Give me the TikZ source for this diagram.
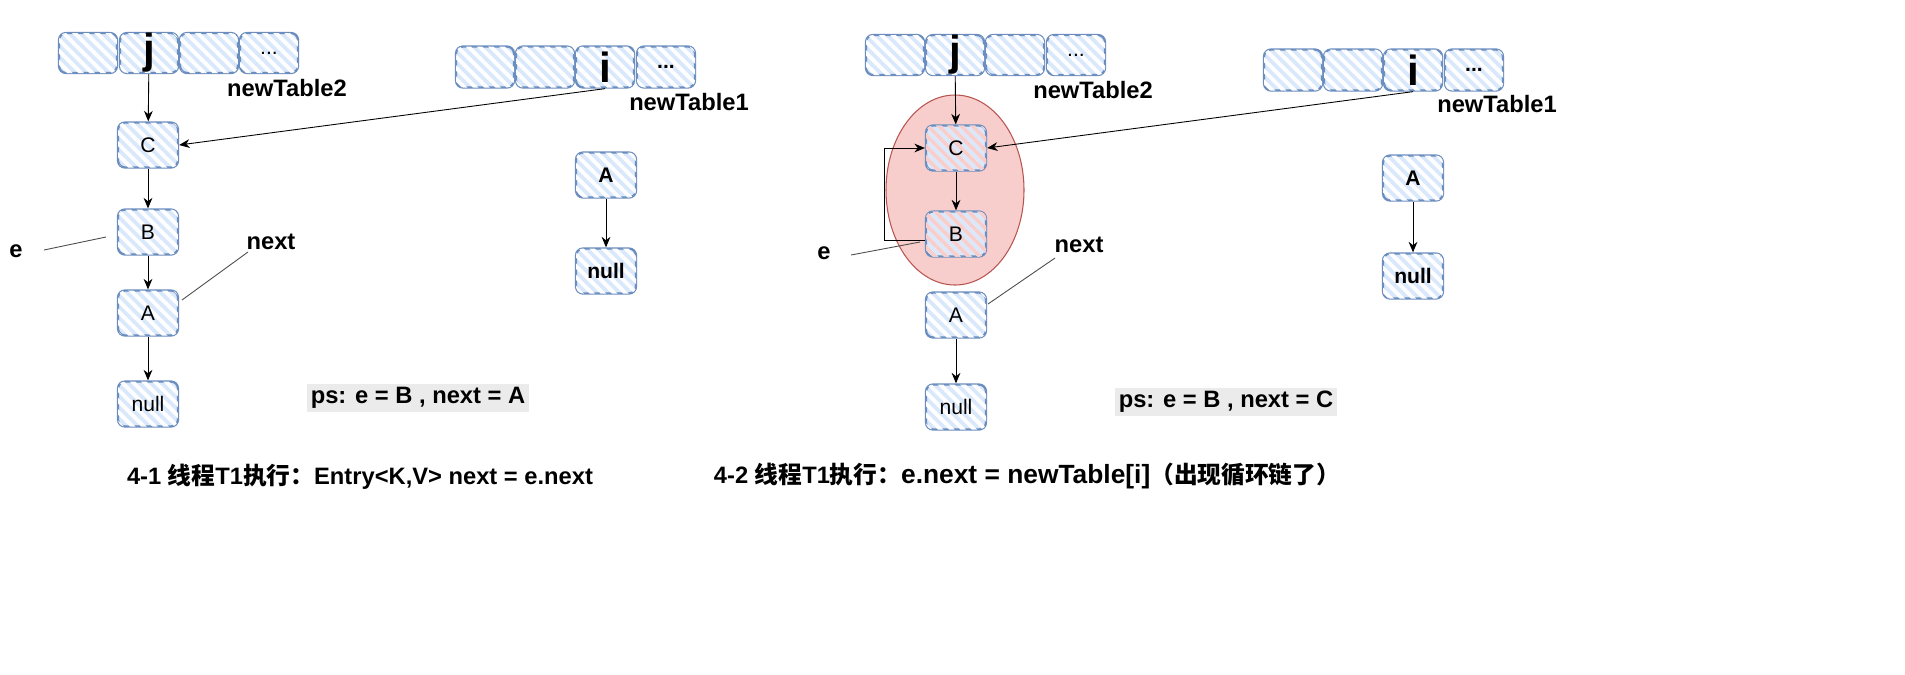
\documentclass[tikz,border=0pt]{standalone}
\usepackage{fontspec}
\setmainfont{Liberation Sans}
\newfontfamily\cjk{Noto Sans CJK SC}
\usetikzlibrary{patterns.meta,arrows.meta}
\begin{document}
\begin{tikzpicture}[x=0.02cm,y=-0.02cm,
 box/.style={draw={rgb,255:red,108;green,142;blue,191},line width=1.3pt,rounded corners=4pt,fill={rgb,255:red,218;green,232;blue,252},postaction={pattern={Lines[angle=-45,distance=4.5pt,line width=2.2pt]},pattern color=white},minimum width=1.2cm,minimum height=0.9cm,inner sep=0pt,font=\fontsize{12}{14}\selectfont},
 pbox/.style={box,postaction={pattern={Lines[angle=-45,distance=4.5pt,line width=2.2pt]},pattern color={rgb,255:red,248;green,206;blue,204}}},
 tbl/.style={box,minimum width=1.16cm,minimum height=0.8cm},
 lbl/.style={font=\bfseries\fontsize{13.5}{15}\selectfont},
 arr/.style={-{Stealth[length=6pt,width=5pt]},line width=0.5pt},
 ln/.style={line width=0.5pt,draw=black!70}]
\useasboundingbox (0,0) rectangle (1905,674);
% left
\foreach \n/\x/\t in {a1/88/,a2/149/{\fontsize{24}{26}\bfseries j},a3/209/,a4/269/{...}}
  \node[tbl] (\n) at (\x,53) {\t};
\node[lbl] (nt2) at (287,88) {newTable2};
\foreach \n/\x/\t in {b1/485/,b2/545/,b3/605/{\fontsize{24}{26}\bfseries i},b4/666/{\bfseries ...}}
  \node[tbl,minimum height=0.82cm] (\n) at (\x,67) {\t};
\node[lbl] (nt1) at (689,102) {newTable1};
\node[box] (C) at (148,145) {C};
\node[box] (B) at (148,232) {B};
\node[box] (A) at (148,313) {A};
\node[box] (N) at (148,404) {null};
\draw[arr] (a2) -- (C); \draw[arr] (C) -- (B); \draw[arr] (B) -- (A); \draw[arr] (A) -- (N);
\draw[arr] (b3.south) -- (C.east);
\node[lbl] (e1) at (16,251) {e};
\coordinate (e1s) at (44,250); \coordinate (e1t) at (106,237);
\draw[ln] (e1s) -- (e1t);
\node[lbl] (nx1) at (271,242) {next};
\coordinate (n1s) at (182,300); \coordinate (n1t) at (248,252);
\draw[ln] (n1s) -- (n1t);
\node[box,font=\bfseries\fontsize{12}{14}\selectfont] (A2) at (606,175) {A};
\node[box,font=\bfseries\fontsize{12}{14}\selectfont] (N2) at (606,271) {null};
\draw[arr] (A2) -- (N2);
\node[lbl,fill=black!8,inner sep=2pt] (ps1) at (418,398) {ps: e = B , next = A};
\node[lbl] (cap1) at (360,477) {4-1 {\cjk 线程}T1{\cjk 执行：}Entry<K,V> next = e.next};
% right
\draw[draw={rgb,255:red,184;green,84;blue,80},fill={rgb,255:red,248;green,206;blue,204},line width=0.6pt] (955,190) ellipse [x radius=69, y radius=95];
\foreach \n/\x/\t in {c1/895/,c2/955/{\fontsize{24}{26}\bfseries j},c3/1015/,c4/1076/{...}}
  \node[tbl] (\n) at (\x,55) {\t};
\node[lbl] (nt2b) at (1093,90) {newTable2};
\foreach \n/\x/\t in {d1/1293/,d2/1353/,d3/1413/{\fontsize{24}{26}\bfseries i},d4/1474/{\bfseries ...}}
  \node[tbl,minimum height=0.82cm] (\n) at (\x,70) {\t};
\node[lbl] (nt1b) at (1497,104) {newTable1};
\node[pbox] (Cr) at (956,148) {C};
\node[pbox] (Br) at (956,234) {B};
\node[box] (Ar) at (956,315) {A};
\node[box] (Nr) at (956,407) {null};
\draw[arr] (c2) -- (Cr); \draw[arr] (Cr) -- (Br); \draw[arr] (Ar) -- (Nr);
\draw[arr] (d3.south) -- (Cr.east);
\draw[arr] (Br.west) ++(0,6) -| (884,148) -- (Cr.west);
\node[lbl] (e2) at (824,253) {e};
\coordinate (e2s) at (851,255); \coordinate (e2t) at (920,242);
\draw[ln] (e2s) -- (e2t);
\node[lbl] (nx2) at (1079,245) {next};
\coordinate (n2s) at (988,304); \coordinate (n2t) at (1055,258);
\draw[ln] (n2s) -- (n2t);
\node[box,font=\bfseries\fontsize{12}{14}\selectfont] (A3) at (1413,178) {A};
\node[box,font=\bfseries\fontsize{12}{14}\selectfont] (N3) at (1413,276) {null};
\draw[arr] (A3) -- (N3);
\node[lbl,fill=black!8,inner sep=2pt] (ps2) at (1226,402) {ps: e = B , next = C};
\node[lbl] (cap2) at (1027,476) {4-2 {\cjk 线程}T1{\cjk 执行：}{\fontsize{15}{17}\selectfont e.next = newTable[i]}{\cjk （出现循环链了）}};
\end{tikzpicture}
\end{document}
